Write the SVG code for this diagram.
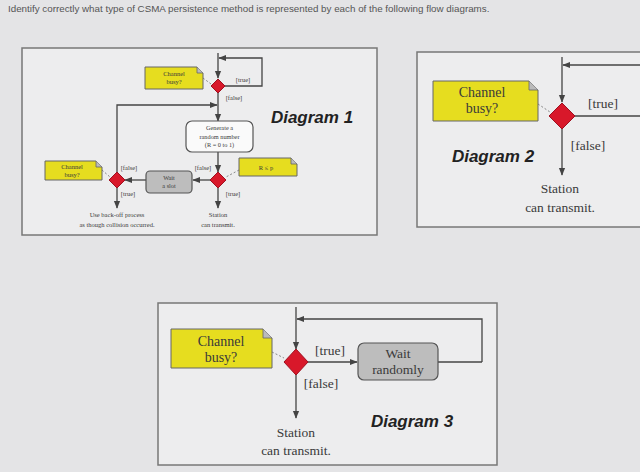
<svg xmlns="http://www.w3.org/2000/svg" width="640" height="472" viewBox="0 0 640 472">
<style>
.frame{fill:#ededee;stroke:#777;stroke-width:1.5}
.ln{fill:none;stroke:#444;stroke-width:1.3}
.arr{marker-end:url(#ah)}
.note{fill:#e6dd1f;stroke:#666;stroke-width:1}
.dot{stroke:#888;stroke-width:1;stroke-dasharray:2,2}
.dia{fill:#d8182a;stroke:#a01020;stroke-width:1}
.t{font-family:"Liberation Serif",serif;fill:#3a3a3a;text-anchor:middle}
.big{font-family:"Liberation Sans",sans-serif;font-weight:bold;font-style:italic;fill:#222;text-anchor:middle}
</style>
<defs>
<marker id="ah" viewBox="0 0 10 10" refX="9" refY="5" markerWidth="6" markerHeight="6" orient="auto"><path d="M0,1 L10,5 L0,9 z" fill="#444"/></marker>
</defs>
<rect width="640" height="472" fill="#e4e4e6"/>
<text x="8" y="12" font-family="Liberation Sans,sans-serif" font-size="9.8" fill="#555">Identify correctly what type of CSMA persistence method is represented by each of the following flow diagrams.</text>

<rect class="frame" x="22" y="48" width="355" height="187"/>
<rect class="frame" x="417" y="52" width="230" height="175"/>
<rect class="frame" x="158" y="303" width="339" height="162"/>

<g id="connectors">
<path class="ln arr" d="M218,53 V78"/>
<path class="ln arr" d="M225,86 H262 V58 H219"/>
<path class="ln arr" d="M218,93 V121"/>
<path class="ln arr" d="M218,152 V172"/>
<path class="ln arr" d="M211,180 H193"/>
<path class="ln arr" d="M146,180 H125"/>
<path class="ln arr" d="M117,172 V105 H217"/>
<path class="ln arr" d="M117,187 V208"/>
<path class="ln arr" d="M218,187 V208"/>
<path class="dot" d="M203,78 L211,84"/>
<path class="dot" d="M102,170 L110,177"/>
<path class="dot" d="M239,170 L226,177"/>

<path class="ln arr" d="M640,65 H563"/>
<path class="ln arr" d="M562,57 V102"/>
<path class="ln" d="M575,116 H640"/>
<path class="ln arr" d="M562,129 V175"/>
<path class="dot" d="M538,104 L550,112"/>

<path class="ln arr" d="M482,362 V319 H297"/>
<path class="ln arr" d="M296,307 V349"/>
<path class="ln arr" d="M308,362 H357"/>
<path class="ln" d="M438,362 H482"/>
<path class="ln arr" d="M296,374 V418"/>
<path class="dot" d="M272,352 L284,358"/>
</g>

<g id="d1-busy1"><path class="note" d="M145,67 H197 L203,73 V89 H145 Z"/><path d="M197,67 V73 H203" fill="#bbb" stroke="#666" stroke-width="0.8"/>
<text class="t" x="174" y="76" font-size="6.5">Channel</text><text class="t" x="174" y="84" font-size="6.5">busy?</text></g>
<g id="d1-dia1"><path class="dia" d="M218,79 L225,86 L218,93 L211,86 Z"/></g>
<text class="t" x="243" y="82" font-size="6.5">[true]</text>
<text class="t" x="234" y="100" font-size="6.5">[false]</text>
<g id="d1-gen"><rect x="186" y="121" width="67" height="31" rx="6" fill="#fafafa" stroke="#555" stroke-width="1.2"/>
<text class="t" x="219.5" y="130" font-size="6.3">Generate a</text><text class="t" x="219.5" y="138.5" font-size="6.3">random number</text><text class="t" x="219.5" y="147" font-size="6.3">(R = 0 to 1)</text></g>
<g id="d1-rp"><path class="note" d="M239,158 H291 L297,164 V176 H239 Z"/><path d="M291,158 V164 H297" fill="#bbb" stroke="#666" stroke-width="0.8"/>
<text class="t" x="266" y="170" font-size="6.5">R ≤ p</text></g>
<g id="d1-dia2"><path class="dia" d="M218,172 L226,180 L218,188 L210,180 Z"/></g>
<text class="t" x="203" y="170" font-size="6.5">[false]</text>
<text class="t" x="233" y="196" font-size="6.5">[true]</text>
<g id="d1-wait"><rect x="146" y="171" width="46" height="22" rx="4" fill="#bdbdbd" stroke="#555" stroke-width="1.2"/>
<text class="t" x="169" y="180" font-size="6.3">Wait</text><text class="t" x="169" y="188" font-size="6.3">a slot</text></g>
<g id="d1-dia3"><path class="dia" d="M117,172 L125,180 L117,188 L109,180 Z"/></g>
<g id="d1-busy2"><path class="note" d="M45,161 H96 L102,167 V180 H45 Z"/><path d="M96,161 V167 H102" fill="#bbb" stroke="#666" stroke-width="0.8"/>
<text class="t" x="72" y="169" font-size="6.5">Channel</text><text class="t" x="72" y="177" font-size="6.5">busy?</text></g>
<text class="t" x="129" y="170" font-size="6.5">[false]</text>
<text class="t" x="128" y="196" font-size="6.5">[true]</text>
<text class="t" x="117" y="217" font-size="6.5">Use back-off process</text>
<text class="t" x="117" y="227" font-size="6.5">as though collision occurred.</text>
<text class="t" x="218" y="217" font-size="6.5">Station</text>
<text class="t" x="218" y="227" font-size="6.5">can transmit.</text>
<text class="big" x="312" y="123" font-size="17">Diagram 1</text>

<g id="d2-busy"><path class="note" d="M433,81 H529 L538,90 V121 H433 Z"/><path d="M529,81 V90 H538" fill="#bbb" stroke="#666" stroke-width="0.8"/>
<text class="t" x="482" y="97" font-size="14">Channel</text><text class="t" x="482" y="113" font-size="14">busy?</text></g>
<g id="d2-dia"><path class="dia" d="M562,103 L575,116 L562,129 L549,116 Z"/></g>
<text class="t" x="603" y="108" font-size="13.5">[true]</text>
<text class="t" x="588" y="150" font-size="13.5">[false]</text>
<text class="t" x="560" y="193" font-size="13.5">Station</text>
<text class="t" x="560" y="212" font-size="13.5">can transmit.</text>
<text class="big" x="493" y="162" font-size="17">Diagram 2</text>

<g id="d3-busy"><path class="note" d="M171,329 H263 L272,338 V368 H171 Z"/><path d="M263,329 V338 H272" fill="#bbb" stroke="#666" stroke-width="0.8"/>
<text class="t" x="221" y="346" font-size="14">Channel</text><text class="t" x="221" y="362" font-size="14">busy?</text></g>
<g id="d3-dia"><path class="dia" d="M296,349 L308,362 L296,375 L284,362 Z"/></g>
<g id="d3-wait"><rect x="358" y="343" width="80" height="37" rx="6" fill="#bdbdbd" stroke="#555" stroke-width="1.2"/>
<text class="t" x="398" y="358" font-size="13.5">Wait</text><text class="t" x="398" y="374" font-size="13.5">randomly</text></g>
<text class="t" x="330" y="355" font-size="13.5">[true]</text>
<text class="t" x="321" y="388" font-size="13.5">[false]</text>
<text class="t" x="296" y="437" font-size="13.5">Station</text>
<text class="t" x="296" y="455" font-size="13.5">can transmit.</text>
<text class="big" x="412" y="427" font-size="17">Diagram 3</text>
</svg>
